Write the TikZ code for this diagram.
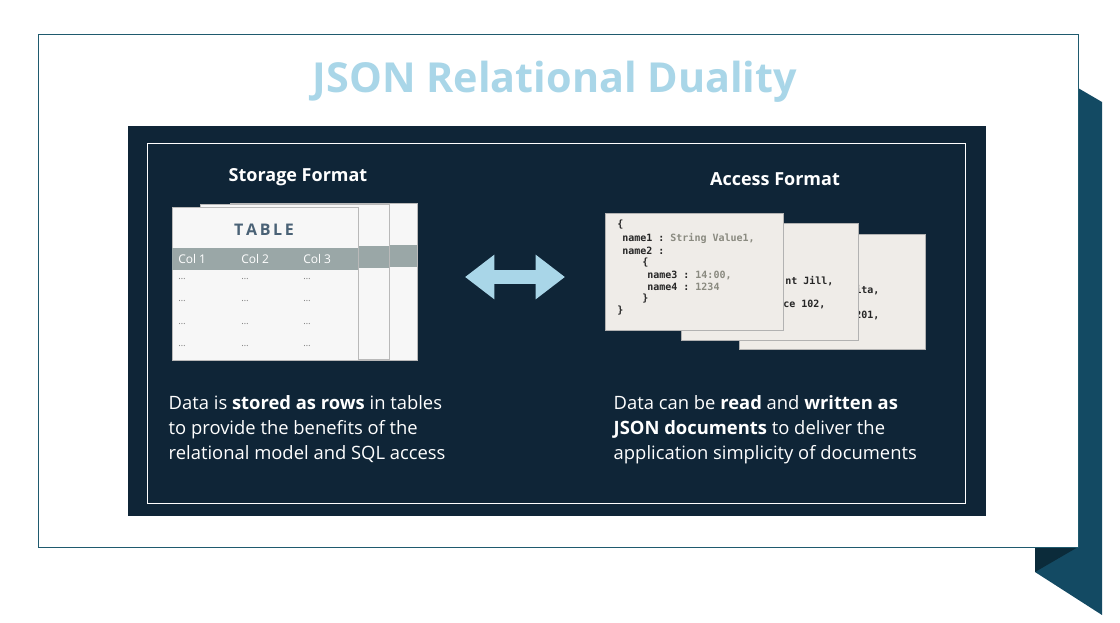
\documentclass[tikz,border=0pt]{standalone}
\usepackage{fontspec}
\setmainfont{Open Sans}
\setmonofont{DejaVu Sans Mono}
\usetikzlibrary{arrows.meta}

\definecolor{framec}{HTML}{1F5A6E}
\definecolor{bandc}{HTML}{134A63}
\definecolor{banddark}{HTML}{0B2B3A}
\definecolor{panelc}{HTML}{0F2537}
\definecolor{titlec}{HTML}{A9D6E8}
\definecolor{tablehead}{HTML}{9AA7A7}
\definecolor{tabletext}{HTML}{4A6276}
\definecolor{cardc}{HTML}{EFECE8}
\definecolor{valc}{HTML}{8A8A80}

\tikzset{
  sheet/.style={fill=white!94!gray, draw=gray!55, line width=0.6pt},
  card/.style={fill=cardc, draw=gray!60, line width=0.4pt},
  heading/.style={text=white, font=\bfseries\fontsize{13.5}{16}\selectfont},
  bodytext/.style={text=white, anchor=north west, align=left,
    font=\fontsize{13.8}{18.75}\selectfont},
  code/.style={anchor=west, inner sep=0pt, font=\ttfamily\bfseries\fontsize{7.5}{9}\selectfont, text=black!85},
  colname/.style={anchor=west, inner sep=0pt, text=white!85, font=\fontsize{9}{10}\selectfont},
  dots/.style={anchor=west, inner sep=0pt, text=gray, font=\fontsize{7}{8}\selectfont},
}

\begin{document}
\begin{tikzpicture}[x=0.75pt,y=-0.75pt]
  \useasboundingbox (0,0) rectangle (1120,623);
  % side band
  \fill[bandc] (1078,88) -- (1102,102) -- (1102,615) -- (1035,572) -- (1035,547) -- (1078,547) -- cycle;
  \fill[banddark] (1035,547) -- (1078,547) -- (1035,572) -- cycle;
  % frame
  \draw[framec, fill=white, line width=0.5pt] (38,34) rectangle (1078,547);
  \node (title) at (555,82) {\textcolor{titlec}{\bfseries\fontsize{31}{36}\selectfont JSON Relational Duality}};
  % panel
  \fill[panelc] (128,126) rectangle (986,516);
  \draw[white!85, line width=0.6pt] (147,143) rectangle (965,503);
  \node[heading] (storage) at (298,177) {Storage Format};
  \node[heading] (access) at (775,179) {Access Format};

  % tables
  \filldraw[sheet] (230,203) rectangle (417,360);
  \fill[tablehead] (230,245) rectangle (417,267);
  \filldraw[sheet] (200,204) rectangle (389,359);
  \fill[tablehead] (200,246) rectangle (389,268);
  \filldraw[sheet] (172,207) rectangle (358,360);
  \fill[tablehead] (172,248) rectangle (358,270);
  \node (table) at (264,230) {\textcolor{tabletext}{\bfseries\fontsize{12}{14}\selectfont T\,A\,B\,L\,E}};
  \foreach \x/\c in {178/Col 1, 241/Col 2, 303/Col 3} {
    \node[colname] at (\x,259) {\c};
    \foreach \y in {279,301,324,346}
      \node[dots] at (\x,\y) {\dots};
  }

  % arrow
  \coordinate (al) at (465,277);
  \coordinate (ar) at (565,277);
  \draw[titlec, line width=10.5pt, {Triangle[length=22pt,width=32pt]}-{Triangle[length=22pt,width=32pt]}] (al) -- (ar);

  % documents
  \draw[card] (739,234) rectangle (925,349);
  \node[code] at (855,290) {ita,};
  \node[code] at (855,315) {201,};
  \draw[card] (681,223) rectangle (858,340);
  \node[code] at (785,281) {nt Jill,};
  \node[code] at (783,304) {ce 102,};
  \draw[card] (605,213) rectangle (783,330);
  \node[code] at (617,225) {\{};
  \node[code] at (622,238) {name1 : \textcolor{valc}{String Value1,}};
  \node[code] at (622,251) {name2 :};
  \node[code] at (642,263) {\{};
  \node[code] at (647,275) {name3 : \textcolor{valc}{14:00,}};
  \node[code] at (647,287) {name4 :  \textcolor{valc}{1234}};
  \node[code] at (642,299) {\}};
  \node[code] at (617,311) {\}};

  % captions
  \node[bodytext] (left) at (164,391) {Data is \textbf{stored as rows} in tables\\to provide the benefits of the\\relational model and SQL access};
  \node[bodytext] (right) at (609,391) {Data can be \textbf{read} and \textbf{written as}\\\textbf{JSON documents} to deliver the\\application simplicity of documents};
\end{tikzpicture}
\end{document}
